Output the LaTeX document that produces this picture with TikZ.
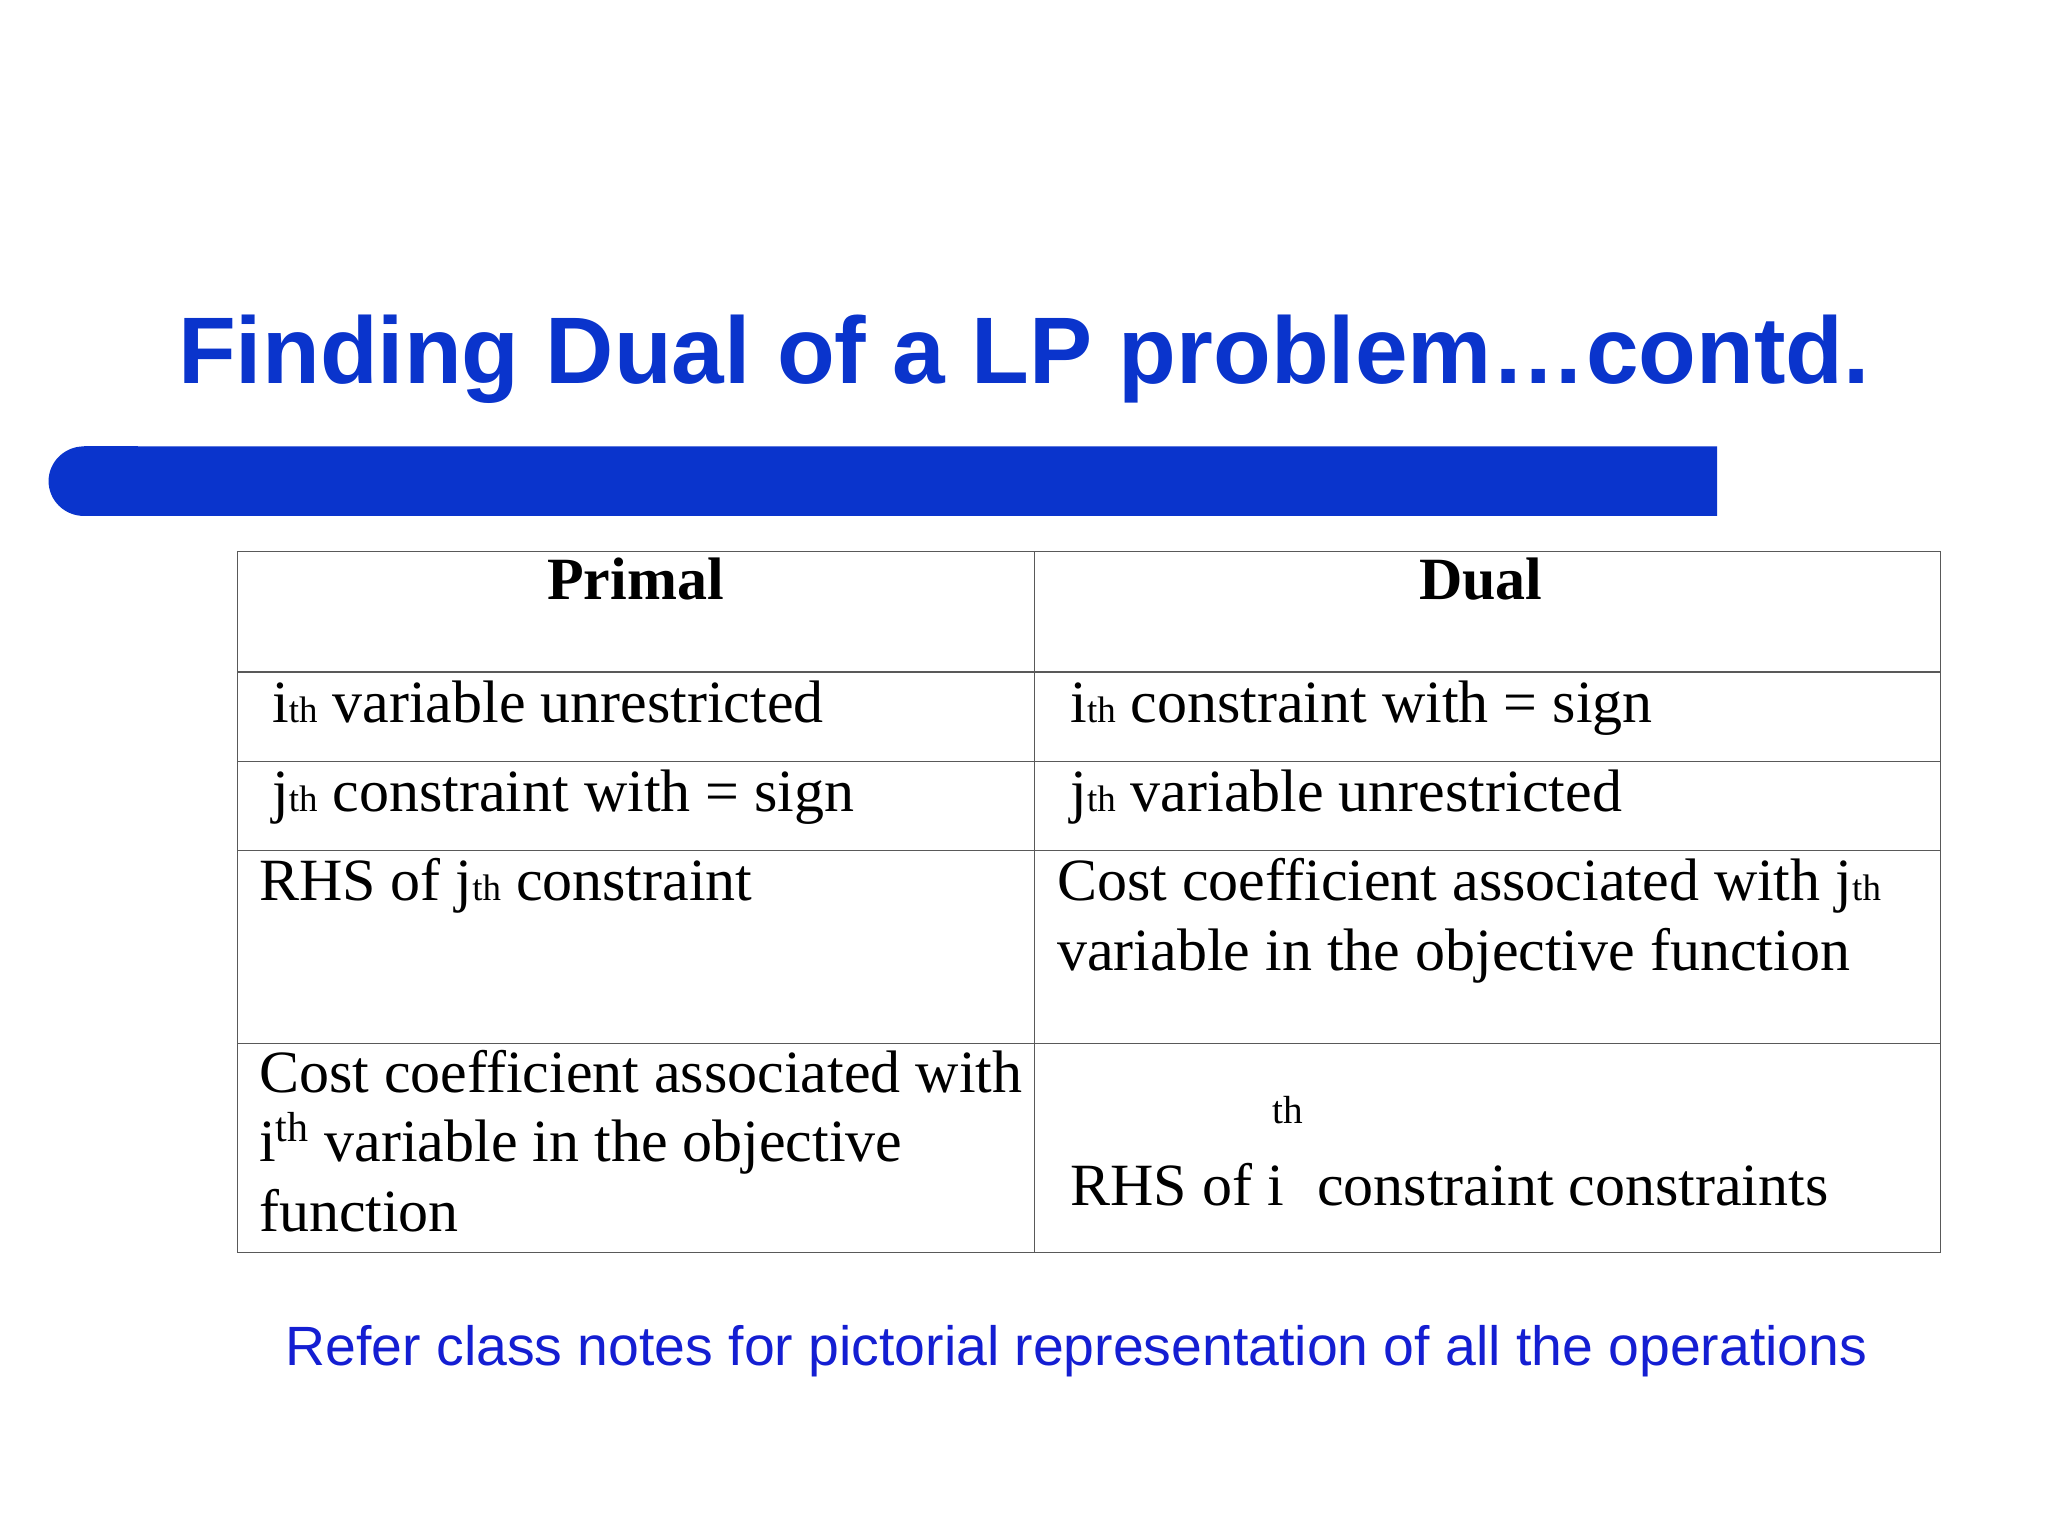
\documentclass[tikz,border=0pt]{standalone}
\usepackage{fontspec}
\setmainfont{Liberation Serif}
\newfontfamily\arialf{Liberation Sans}
\definecolor{ttl}{RGB}{10,52,204}
\definecolor{ftr}{RGB}{20,30,210}
\newcommand\smth{{\fontsize{16}{16}\selectfont th}}
\begin{document}
\begin{tikzpicture}[x=0.02cm,y=-0.02cm,
  cell/.style={anchor=base west,inner sep=0pt,font=\fontsize{26}{30}\selectfont,align=left},
  hd/.style={anchor=base,inner sep=0pt,font=\fontsize{26}{30}\selectfont\bfseries},
  grid/.style={draw=black!65,line width=0.6pt}]
\useasboundingbox (0,0) rectangle (1560,1170);
\fill[white] (0,0) rectangle (1560,1170);
\node[anchor=base,inner sep=0pt,text=ttl,font=\arialf\bfseries\fontsize{41}{45}\selectfont] (title) at (780,292) {Finding Dual of a LP problem\ldots contd.};
\fill[ttl] (105,340) -- (1308,340) -- (1308,393) -- (64,393) arc[start angle=270,end angle=90,x radius=27,y radius=-26.5] -- cycle;
\fill[ttl] (64,340) rectangle (105,393);
% table
\draw[grid] (181,420) rectangle (1478,954);
\draw[grid] (788,420) -- (788,954);
\foreach \yy in {512,580,648,795} \draw[grid] (181,\yy) -- (1478,\yy);
\node[hd] (p) at (484,457) {Primal};
\node[hd] (d) at (1128,457) {Dual};
\node[cell] (a1) at (207,550) {i\smth\ variable unrestricted};
\node[cell] (b1) at (815,550) {i\smth\ constraint with = sign};
\node[cell] (a2) at (207,618) {j\smth\ constraint with = sign};
\node[cell] (b2) at (815,618) {j\smth\ variable unrestricted};
\node[cell] (a3) at (197,686) {RHS of j\smth\ constraint};
\node[cell] (b3) at (805,686) {Cost coefficient associated with j\smth};
\node[cell] (b3b) at (805,739) {variable in the objective function};
\node[cell] (a4) at (197,832) {Cost coefficient associated with};
\node[cell] (a4b) at (197,885) {i\textsuperscript{th} variable in the objective};
\node[cell] (a4c) at (197,938) {function};
\node[cell] (b4) at (815,918) {RHS of i};
\node[cell] (b4b) at (1003,918) {constraint constraints};
\node[anchor=base,inner sep=0pt,font=\fontsize{17}{17}\selectfont] (b4t) at (981,856) {th};
\node[anchor=base,inner sep=0pt,text=ftr,font=\arialf\fontsize{24}{28}\selectfont] (foot) at (820,1040) {Refer class notes for pictorial representation of all the operations};
\end{tikzpicture}
\end{document}
